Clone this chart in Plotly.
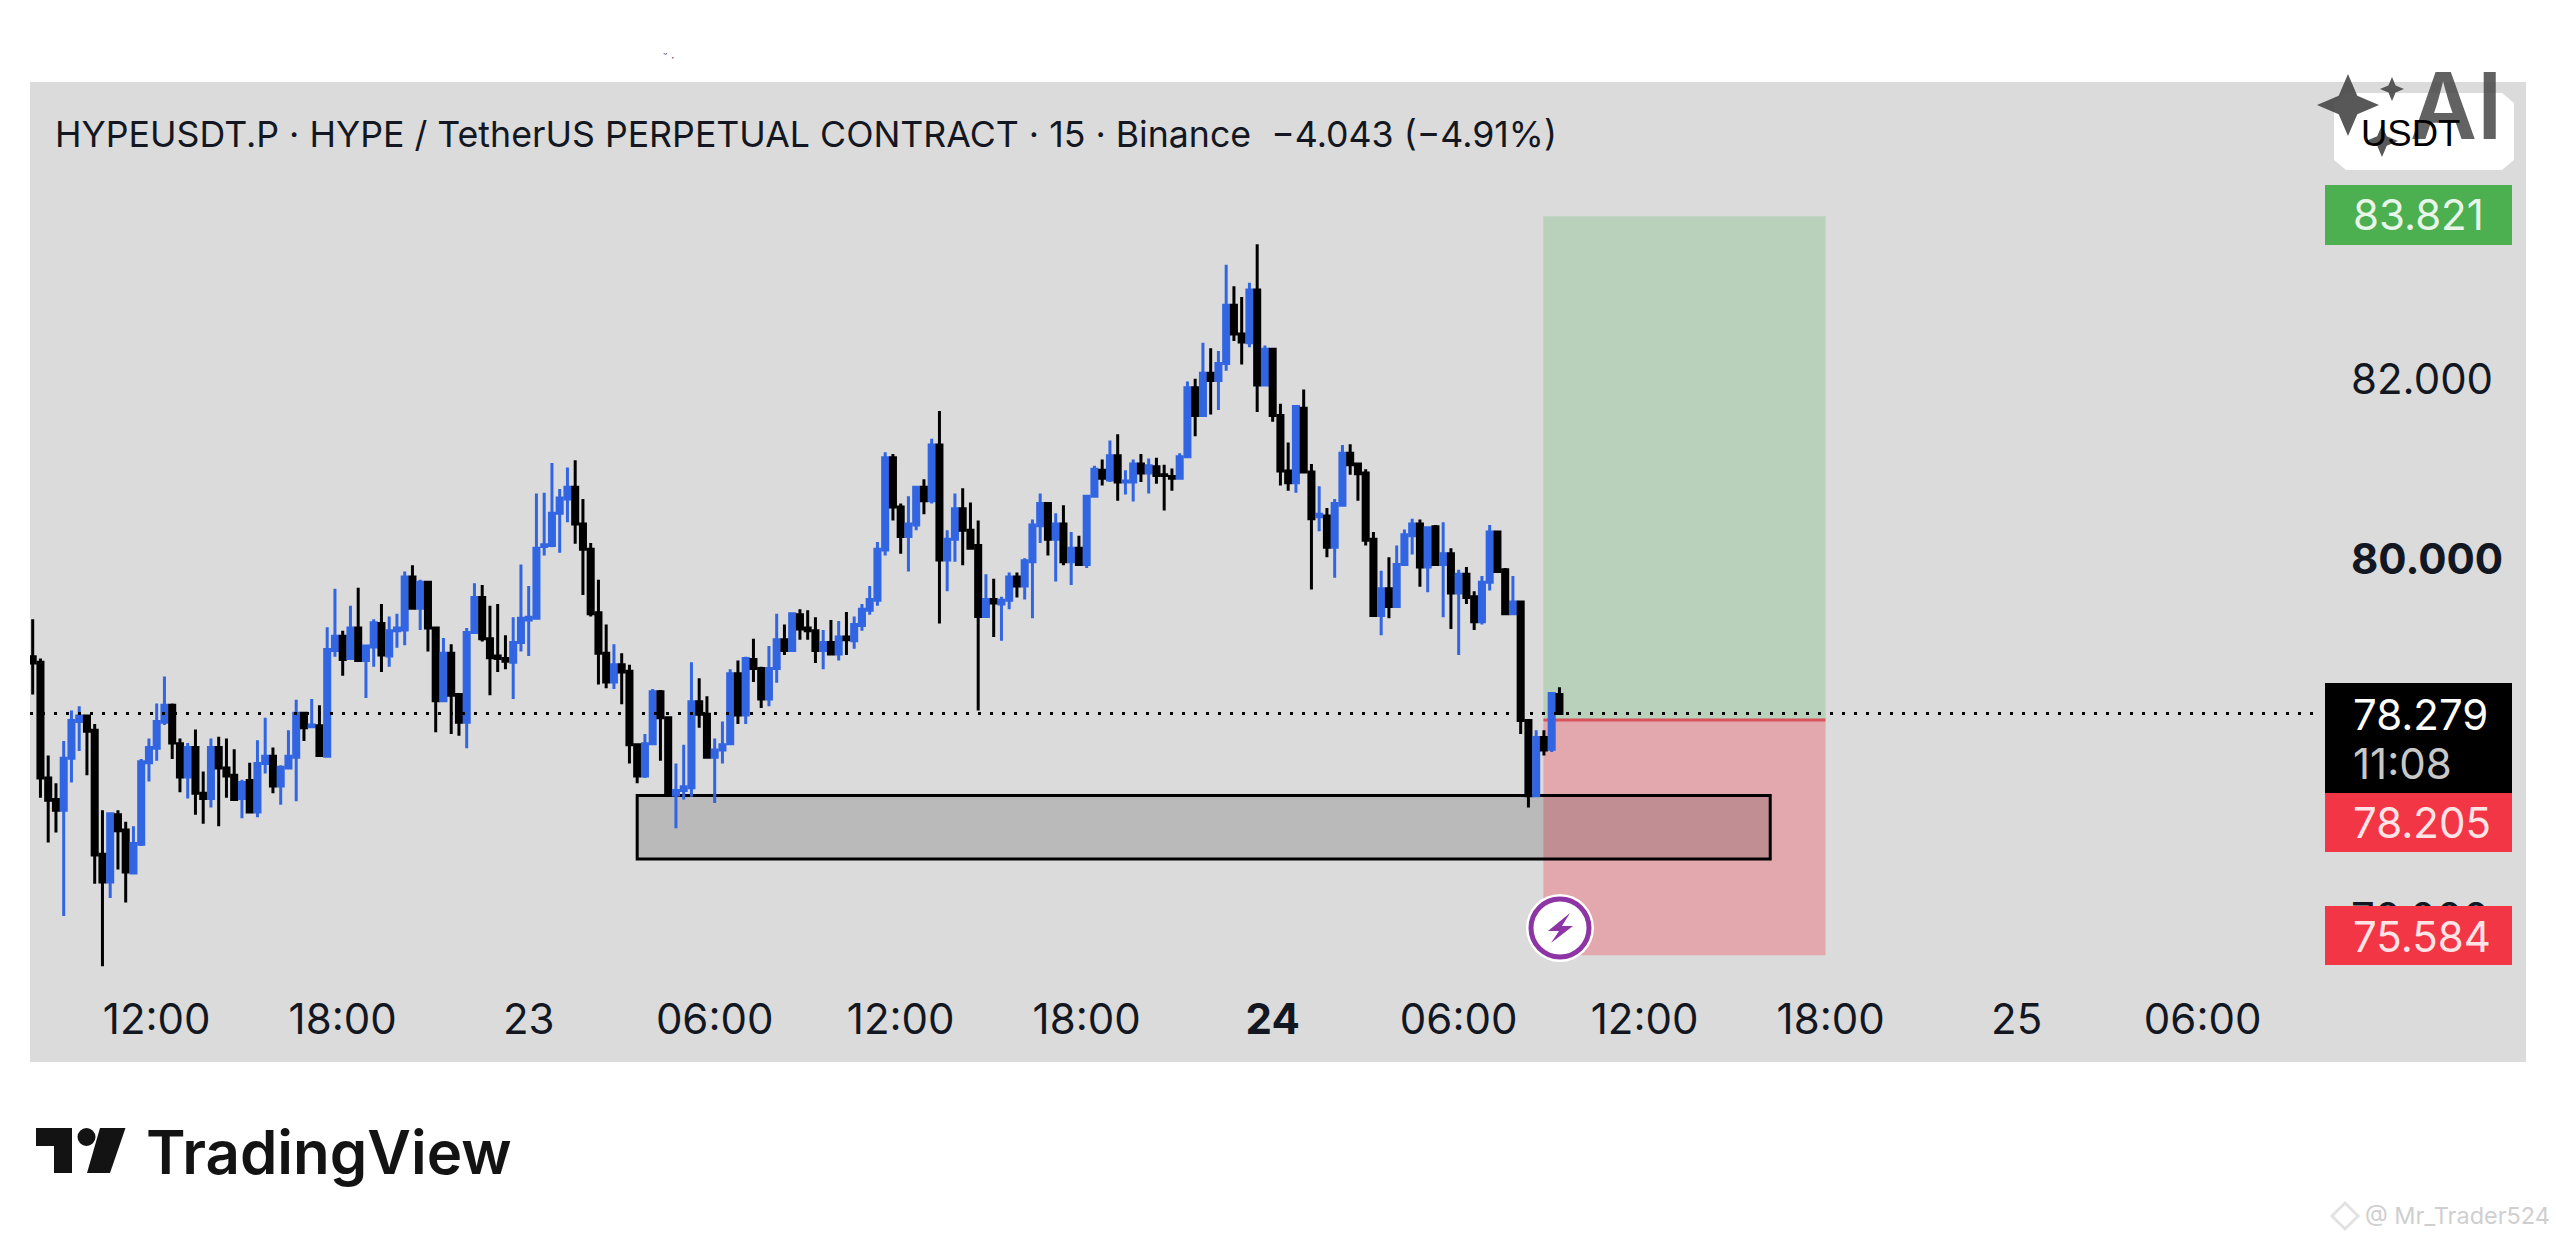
import pandas as pd
import plotly.graph_objects as go

W, H = 2556, 1240

START = "2025-09-22 08:00"
opens = [78.91,78.85,77.56,77.32,77.20,77.78,78.19,78.25,78.09,76.71,
 76.40,77.15,76.98,76.50,76.82,77.73,77.89,78.18,78.37,77.94,
 77.57,77.90,77.39,77.33,77.90,77.67,77.59,77.33,77.53,77.18,
 77.72,77.80,77.47,77.67,77.79,78.28,78.13,78.14,77.80,78.98,
 79.14,78.89,79.23,78.87,79.02,79.28,78.92,79.20,79.21,79.80,
 79.45,79.74,79.23,78.42,78.95,78.49,78.18,79.18,79.57,79.11,
 78.92,78.89,78.85,79.07,79.32,79.34,80.14,80.15,80.51,80.67,
 80.80,80.39,80.11,79.40,78.95,78.63,78.82,78.75,77.93,77.58,
 77.94,78.52,78.23,77.37,77.42,77.45,78.41,78.27,77.79,77.87,
 77.94,78.72,78.26,78.88,78.78,78.44,78.78,79.10,78.98,79.38,
 79.23,79.20,78.98,79.07,78.94,79.13,79.09,79.26,79.43,79.54,
 80.10,81.13,80.58,80.25,80.38,80.80,80.65,81.27,79.99,80.22,
 80.56,80.32,80.15,79.36,79.55,79.50,79.54,79.80,79.70,79.97,
 80.37,80.62,80.22,80.39,79.97,80.12,79.94,80.70,80.99,80.88,
 81.15,80.86,80.86,81.06,80.96,81.03,80.94,80.92,80.90,81.14,
 81.91,81.60,82.07,81.99,82.18,82.83,82.51,82.41,83.00,81.94,
 82.34,81.60,80.98,80.85,81.68,80.97,80.47,80.48,80.13,80.60,
 81.18,81.06,80.96,80.22,79.37,79.67,79.47,79.94,80.26,80.39,
 79.91,80.36,79.94,80.06,79.62,79.83,79.58,79.30,79.74,80.30,
 79.88,79.39,79.52,78.20,77.36,78.01,77.88,78.49]
closes = [78.84,77.56,77.31,77.20,77.78,78.20,78.25,78.08,76.70,76.40,
 77.16,76.97,76.51,76.83,77.74,77.90,78.19,78.37,77.95,77.57,
 77.90,77.39,77.33,77.90,77.67,77.58,77.32,77.51,77.18,77.72,
 77.80,77.47,77.68,77.80,78.28,78.12,78.15,77.81,78.99,79.14,
 78.88,79.23,78.87,79.03,79.29,78.93,79.20,79.23,79.80,79.45,
 79.74,79.23,78.42,78.95,78.48,78.18,79.18,79.57,79.11,78.90,
 78.89,78.86,79.07,79.34,79.35,80.12,80.16,80.51,80.68,80.80,
 80.39,80.11,79.39,78.95,78.63,78.82,78.74,77.93,77.58,77.94,
 78.52,78.23,77.38,77.42,77.46,78.41,78.27,77.79,77.87,77.93,
 78.72,78.26,78.89,78.78,78.44,78.78,79.10,78.98,79.39,79.22,
 79.20,78.98,79.07,78.94,79.13,79.10,79.27,79.44,79.55,80.11,
 81.13,80.58,80.25,80.39,80.80,80.65,81.27,79.99,80.22,80.56,
 80.32,80.12,79.36,79.55,79.51,79.54,79.80,79.70,79.98,80.38,
 80.62,80.22,80.39,79.97,80.12,79.94,80.70,81.00,80.90,81.15,
 80.86,80.87,81.06,80.96,81.04,80.93,80.93,80.90,81.14,81.91,
 81.60,82.07,81.99,82.18,82.83,82.51,82.42,83.00,81.94,82.34,
 81.60,80.98,80.85,81.70,80.97,80.45,80.50,80.13,80.62,81.18,
 81.05,80.95,80.21,79.37,79.67,79.47,79.94,80.27,80.39,79.91,
 80.35,79.94,80.06,79.62,79.83,79.57,79.30,79.74,80.30,79.86,
 79.39,79.52,78.20,77.36,78.01,77.87,78.50,78.279]
highs = [79.33,78.89,77.81,77.50,77.97,78.31,78.36,78.25,78.16,77.20,
 77.16,77.20,77.07,77.02,77.77,78.00,78.39,78.69,78.39,78.00,
 77.95,78.10,77.63,78.00,78.02,78.00,77.88,77.54,77.73,77.98,
 78.23,77.90,77.70,78.09,78.43,78.29,78.44,78.37,79.24,79.67,
 79.20,79.48,79.68,79.04,79.33,79.50,79.36,79.39,79.86,79.93,
 79.77,79.75,79.23,79.12,79.05,78.50,79.23,79.73,79.71,79.48,
 79.50,79.15,79.35,79.94,79.70,80.73,80.74,81.07,80.78,81.02,
 81.10,80.67,80.18,79.77,79.27,79.05,78.95,78.82,77.94,78.05,
 78.55,78.54,78.24,77.72,77.93,78.85,78.67,78.47,78.00,78.19,
 78.77,78.87,78.91,79.11,78.80,79.03,79.39,79.27,79.39,79.44,
 79.43,79.35,79.21,79.32,79.31,79.41,79.36,79.50,79.70,80.19,
 81.19,81.17,80.62,80.70,80.81,80.89,81.34,81.65,80.32,80.73,
 80.79,80.63,80.43,79.83,79.78,79.58,79.85,79.85,80.01,80.44,
 80.73,80.62,80.51,80.60,80.30,80.26,80.70,81.04,81.11,81.32,
 81.39,80.99,81.11,81.17,81.12,81.13,81.05,81.01,81.18,81.98,
 82.01,82.41,82.35,82.32,83.28,83.04,82.92,83.08,83.51,82.38,
 82.35,81.73,81.30,81.71,81.89,81.06,80.81,80.57,80.67,81.27,
 81.28,81.06,81.00,80.30,79.87,80.02,80.15,80.33,80.45,80.44,
 80.36,80.38,80.41,80.12,79.88,79.91,79.64,79.81,80.38,80.30,
 79.90,79.81,79.53,78.20,78.09,78.09,78.51,78.57]
lows = [78.49,77.34,76.84,76.95,76.02,77.51,77.86,77.59,76.38,75.46,
 76.22,76.54,76.17,76.50,76.80,77.52,77.75,78.15,77.77,77.40,
 77.33,77.15,77.05,77.23,77.02,77.34,77.31,77.11,77.17,77.12,
 77.61,77.39,77.26,77.67,77.30,77.97,78.13,77.81,77.80,78.91,
 78.70,78.89,78.86,78.45,78.80,78.74,78.80,79.01,79.04,79.45,
 79.21,78.97,78.07,78.42,78.05,78.03,77.89,79.18,79.08,78.48,
 78.74,78.77,78.44,78.97,78.92,79.34,80.04,80.13,80.07,80.41,
 80.17,79.60,79.36,78.60,78.56,78.55,78.38,77.72,77.50,77.56,
 77.94,77.75,77.38,77.00,77.32,77.35,78.12,77.79,77.28,77.72,
 77.94,78.16,78.16,78.63,78.34,78.36,78.62,78.93,78.98,79.10,
 79.10,78.84,78.77,78.94,78.87,78.93,79.00,79.20,79.38,79.48,
 80.04,80.43,80.06,79.86,80.32,80.50,80.62,79.28,79.64,79.97,
 79.93,80.12,78.31,79.36,79.13,79.09,79.44,79.57,79.55,79.34,
 80.18,80.04,79.75,79.93,79.71,79.94,79.90,80.70,80.82,80.86,
 80.65,80.72,80.64,80.86,80.73,80.84,80.54,80.76,80.90,81.14,
 81.37,81.60,81.61,81.66,82.10,82.43,82.17,82.36,81.64,81.94,
 81.53,80.82,80.76,80.74,80.97,79.66,80.31,80.02,79.79,80.59,
 80.94,80.65,80.15,79.37,79.15,79.34,79.47,79.93,80.05,79.69,
 79.63,79.94,79.35,79.22,78.93,79.50,79.21,79.27,79.65,79.86,
 79.39,79.39,78.05,77.23,77.36,77.81,77.85,78.279]

x_tick_times = ["2025-09-22 12:00","2025-09-22 18:00","2025-09-23 00:00","2025-09-23 06:00",
                "2025-09-23 12:00","2025-09-23 18:00","2025-09-24 00:00","2025-09-24 06:00",
                "2025-09-24 12:00","2025-09-24 18:00","2025-09-25 00:00","2025-09-25 06:00"]
x_tick_text = ["12:00","18:00","23","06:00","12:00","18:00","<b>24</b>","06:00","12:00","18:00","25","06:00"]
y_ticks = [76, 78, 80, 82]
y_tick_text = ["76.000","78.000","<b>80.000</b>","82.000"]

x_range = ["2025-09-22 07:54:46", "2025-09-25 09:47:06"]
y_range = [75.240, 85.318]

last_price = 78.279
take_profit = 83.821
entry = 78.205
stop_loss = 75.584
zone_top, zone_bottom = 77.363, 76.655
zone_t0, zone_t1 = "2025-09-23 03:30", "2025-09-24 16:03"
pos_t0, pos_t1 = "2025-09-24 08:44", "2025-09-24 17:50"

TITLE = "HYPEUSDT.P · HYPE / TetherUS PERPETUAL CONTRACT · 15 · Binance  −4.043 (−4.91%)"

FONT = "Inter"
BLUE = "#3165e2"
BLACK = "#000000"
INK = "#131722"


def fx(px):
    return px / W


def fy(py):
    return 1 - py / H


def poly(points):
    return "M " + " L ".join(f"{fx(x):.5f},{fy(y):.5f}" for x, y in points) + " Z"


def star(cx, cy, r):
    k = 0.3 * r
    pts = [(cx, cy - r), (cx + k, cy - k), (cx + r, cy), (cx + k, cy + k),
           (cx, cy + r), (cx - k, cy + k), (cx - r, cy), (cx - k, cy - k)]
    return poly(pts)


def rect_px(x0, y0, x1, y1, color, layer="above", **kw):
    return dict(type="rect", xref="paper", yref="paper", x0=fx(x0), x1=fx(x1),
                y0=fy(y1), y1=fy(y0), fillcolor=color, line=dict(width=0), layer=layer, **kw)


def text_px(x, y, text, size, color=INK, anchor="left", weight=None, family=FONT):
    font = dict(family=family, size=size, color=color)
    if weight:
        font["weight"] = weight
    return dict(xref="paper", yref="paper", x=fx(x), y=fy(y), text=text, showarrow=False,
                xanchor=anchor, yanchor="middle", font=font, borderpad=0, borderwidth=0)


times = pd.date_range(START, periods=len(opens), freq="15min")

fig = go.Figure(go.Candlestick(
    x=times, open=opens, high=highs, low=lows, close=closes,
    increasing=dict(line=dict(color=BLUE, width=3), fillcolor=BLUE),
    decreasing=dict(line=dict(color=BLACK, width=3), fillcolor=BLACK),
    whiskerwidth=0, showlegend=False, hoverinfo="skip",
))

shapes = [
    rect_px(30, 82, 2526, 1062, "#dbdbdb", layer="below"),
    dict(type="rect", xref="x", yref="y", x0=pos_t0, x1=pos_t1, y0=entry, y1=take_profit,
         fillcolor="#b9d1bb", line=dict(width=0), layer="below"),
    dict(type="rect", xref="x", yref="y", x0=pos_t0, x1=pos_t1, y0=stop_loss, y1=entry,
         fillcolor="#e3a8ad", line=dict(width=0), layer="below"),
    rect_px(1543, 723, 1560, 733, "#dcd0d2", layer="below"),
    dict(type="rect", xref="x", yref="y", x0=zone_t0, x1=zone_t1, y0=zone_bottom, y1=zone_top,
         fillcolor="rgba(0,0,0,0.15)", line=dict(color="#000000", width=3), layer="below"),
    dict(type="line", xref="x", yref="y", x0=pos_t0, x1=pos_t1, y0=entry, y1=entry,
         line=dict(color="#d9535c", width=3), layer="below"),
    dict(type="line", xref="paper", yref="y", x0=fx(30), x1=fx(2316), y0=last_price, y1=last_price,
         line=dict(color="#000000", width=3, dash="3px,9px"), layer="above"),
    # price scale labels
    rect_px(2325, 185, 2512, 245, "#4caf50"),
    rect_px(2325, 683, 2512, 793, "#000000"),
    rect_px(2325, 793, 2512, 852, "#f23645"),
    rect_px(2325, 906, 2512, 965, "#f23645"),
    # currency button
    dict(type="path", xref="paper", yref="paper", fillcolor="#ffffff", line=dict(width=0), layer="above",
         path=poly([(2346, 93), (2502, 93), (2514, 103), (2514, 160), (2502, 170), (2346, 170), (2334, 160), (2334, 103)])),
    # AI sparkle badge
    dict(type="path", xref="paper", yref="paper", path=star(2348, 105, 31), fillcolor="rgba(70,70,70,0.9)", line=dict(width=0), layer="above"),
    dict(type="path", xref="paper", yref="paper", path=star(2392, 89, 12), fillcolor="rgba(70,70,70,0.9)", line=dict(width=0), layer="above"),
    dict(type="path", xref="paper", yref="paper", path=star(2382, 141, 16), fillcolor="rgba(70,70,70,0.9)", line=dict(width=0), layer="above"),
    # lightning badge
    dict(type="circle", xref="paper", yref="paper", x0=fx(1526), x1=fx(1594), y0=fy(962), y1=fy(894),
         fillcolor="#ffffff", line=dict(width=0), layer="above"),
    dict(type="circle", xref="paper", yref="paper", x0=fx(1531), x1=fx(1589), y0=fy(957), y1=fy(899),
         fillcolor="#ffffff", line=dict(color="#8e35a5", width=5), layer="above"),
    dict(type="path", xref="paper", yref="paper", fillcolor="#8e35a5", line=dict(width=0), layer="above",
         path=poly([(1570, 913), (1548, 931), (1559, 931), (1551, 943), (1573, 926), (1562, 926)])),
    # TradingView logo
    dict(type="path", xref="paper", yref="paper", fillcolor="#131313", line=dict(width=0), layer="above",
         path=poly([(36, 1128), (72, 1128), (72, 1173), (54, 1173), (54, 1146), (36, 1146)])),
    dict(type="circle", xref="paper", yref="paper", x0=fx(77.5), x1=fx(95.5), y0=fy(1146), y1=fy(1128),
         fillcolor="#131313", line=dict(width=0), layer="above"),
    dict(type="path", xref="paper", yref="paper", fillcolor="#131313", line=dict(width=0), layer="above",
         path=poly([(100, 1128), (125.5, 1128), (110, 1173), (87, 1173)])),
    # watermark icon
    dict(type="path", xref="paper", yref="paper", fillcolor="rgba(0,0,0,0)", line=dict(color="#e2e2e2", width=3), layer="above",
         path=poly([(2345, 1203), (2358, 1216), (2345, 1229), (2332, 1216)])),
]

annotations = [
    text_px(55, 134, TITLE, 35.7),
    text_px(2410, 106, "AI", 92, color="rgba(70,70,70,0.85)", weight=600),
    text_px(2410, 133, "USDT", 36.5, color="#000000", anchor="center", family="Liberation Sans"),
    text_px(2353, 215, "83.821", 42, color="#e8f5e9"),
    text_px(2353, 714, "78.279", 42, color="#ffffff"),
    text_px(2353, 763, "11:08", 42, color="#c8c8c8"),
    text_px(2353, 822, "78.205", 42, color="#ffe3e5"),
    text_px(2353, 936, "75.584", 42, color="#ffe3e5"),
    text_px(146, 1152, "TradingView", 60, color="#131313", weight=600),
    text_px(2365, 1215, "@ Mr_Trader524", 23.5, color="#cfcfcf"),
    text_px(668, 58, "˘ ·", 12, color="#555555", anchor="center"),
]

fig.update_layout(
    width=W, height=H, autosize=False,
    margin=dict(l=0, r=0, t=0, b=0, pad=0),
    paper_bgcolor="#ffffff", plot_bgcolor="rgba(0,0,0,0)",
    boxgap=0.35, boxgroupgap=0, dragmode=False, showlegend=False,
    font=dict(family=FONT, color=INK),
    xaxis=dict(domain=[fx(30), fx(2320)], range=x_range, type="date",
               tickmode="array", tickvals=x_tick_times, ticktext=x_tick_text,
               tickfont=dict(family=FONT, size=42, color=INK), ticks="", showgrid=False,
               zeroline=False, showline=False, rangeslider=dict(visible=False), ticklabelstandoff=5),
    yaxis=dict(domain=[fy(986), fy(82)], range=y_range, side="right",
               tickmode="array", tickvals=y_ticks, ticktext=y_tick_text,
               tickfont=dict(family=FONT, size=42, color=INK), ticks="", showgrid=False,
               zeroline=False, showline=False, ticklabelstandoff=30),
    shapes=shapes, annotations=annotations,
)

fig.write_html("out.html", config=dict(displayModeBar=False),
               post_script="document.body.style.margin='0';")
